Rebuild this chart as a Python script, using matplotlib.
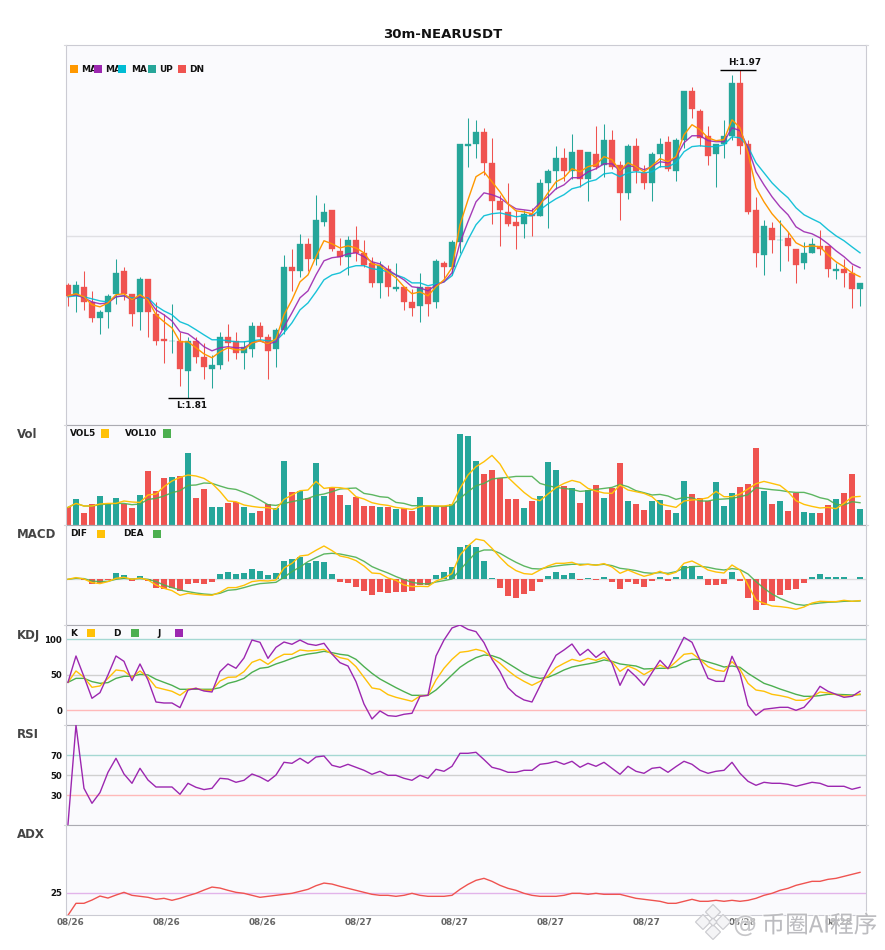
import numpy as np
import matplotlib
matplotlib.use("Agg")
import matplotlib.pyplot as plt
import matplotlib.patheffects as pe
from matplotlib.lines import Line2D
from matplotlib.patches import Polygon, Rectangle

UP = '#26A69A'
DN = '#EF5350'
ORANGE = '#FF9800'
PURPLE = '#9C27B0'
CYAN = '#00BCD4'
YELLOW = '#FFC107'
GREEN = '#4CAF50'
BG = '#FAFAFD'

# candles
open_ = [1.865,1.860,1.864,1.857,1.849,1.852,1.861,1.872,1.861,1.852,1.868,1.851,1.839,1.838,1.838,1.823,1.838,1.830,1.824,1.826,
         1.840,1.838,1.832,1.834,1.845,1.840,1.834,1.843,1.874,1.872,1.885,1.878,1.896,1.902,1.882,1.879,1.887,1.881,1.876,1.866,
         1.873,1.863,1.864,1.857,1.855,1.864,1.857,1.876,1.874,1.886,1.933,1.934,1.940,1.925,1.906,1.901,1.896,1.895,1.900,1.899,
         1.915,1.921,1.927,1.921,1.931,1.917,1.929,1.924,1.936,1.924,1.910,1.933,1.920,1.915,1.929,1.935,1.921,1.936,1.960,1.950,
         1.938,1.929,1.934,1.938,1.964,1.934,1.902,1.880,1.893,1.887,1.888,1.883,1.876,1.881,1.884,1.884,1.872,1.873,1.871,1.863]
close = [1.860,1.865,1.857,1.849,1.852,1.860,1.871,1.861,1.851,1.868,1.852,1.838,1.838,1.838,1.824,1.838,1.830,1.825,1.826,1.840,
         1.837,1.832,1.835,1.845,1.840,1.833,1.843,1.874,1.872,1.885,1.878,1.897,1.901,1.883,1.879,1.887,1.881,1.875,1.866,1.875,
         1.864,1.864,1.857,1.854,1.864,1.856,1.877,1.874,1.886,1.934,1.934,1.940,1.925,1.906,1.902,1.895,1.894,1.900,1.899,1.915,
         1.921,1.927,1.921,1.930,1.917,1.930,1.923,1.936,1.923,1.910,1.933,1.921,1.915,1.929,1.934,1.922,1.936,1.960,1.951,1.937,
         1.928,1.934,1.938,1.964,1.933,1.901,1.881,1.894,1.887,1.887,1.884,1.875,1.881,1.885,1.883,1.873,1.873,1.871,1.863,1.866]
high = [1.866,1.867,1.872,1.862,1.853,1.861,1.878,1.874,1.861,1.869,1.868,1.857,1.851,1.856,1.842,1.840,1.840,1.837,1.831,1.842,
        1.846,1.842,1.838,1.847,1.847,1.841,1.844,1.880,1.883,1.890,1.888,1.909,1.905,1.902,1.888,1.889,1.894,1.887,1.879,1.877,
        1.875,1.876,1.864,1.863,1.871,1.864,1.878,1.877,1.887,1.934,1.947,1.946,1.942,1.937,1.909,1.915,1.902,1.902,1.903,1.917,
        1.922,1.933,1.932,1.939,1.931,1.930,1.943,1.944,1.941,1.926,1.934,1.937,1.924,1.930,1.937,1.938,1.937,1.960,1.962,1.951,
        1.943,1.934,1.946,1.968,1.970,1.936,1.908,1.897,1.896,1.897,1.891,1.883,1.886,1.888,1.892,1.884,1.876,1.878,1.875,1.866]
low = [1.855,1.852,1.853,1.847,1.841,1.844,1.856,1.858,1.845,1.843,1.840,1.836,1.827,1.832,1.816,1.810,1.827,1.819,1.815,1.824,
       1.828,1.829,1.824,1.830,1.838,1.819,1.825,1.841,1.862,1.869,1.872,1.875,1.894,1.882,1.875,1.870,1.877,1.874,1.864,1.859,
       1.860,1.862,1.853,1.850,1.847,1.850,1.854,1.868,1.870,1.881,1.923,1.927,1.919,1.895,1.884,1.894,1.883,1.888,1.889,1.899,
       1.893,1.912,1.916,1.917,1.913,1.906,1.922,1.918,1.922,1.897,1.907,1.915,1.912,1.906,1.923,1.921,1.916,1.932,1.947,1.933,
       1.924,1.913,1.927,1.936,1.929,1.900,1.874,1.870,1.881,1.872,1.877,1.866,1.873,1.881,1.880,1.869,1.868,1.864,1.854,1.855]

ma5 = [1.8599,1.8609,1.8594,1.8555,1.8545,1.8564,1.8604,1.8609,1.8579,1.8604,1.8579,1.8506,1.8472,1.8442,1.8374,1.8374,1.8345,1.8315,1.8296,1.8325,
       1.8345,1.8335,1.8335,1.8369,1.8379,1.8364,1.8389,1.8506,1.8579,1.8667,1.8701,1.8790,1.8868,1.8853,1.8833,1.8843,1.8833,1.8809,1.8755,1.8746,
       1.8716,1.8687,1.8643,1.8609,1.8618,1.8599,1.8643,1.8677,1.8736,1.8946,1.9068,1.9181,1.9205,1.9156,1.9107,1.9048,1.9014,1.9009,1.9000,1.9043,
       1.9102,1.9156,1.9176,1.9220,1.9205,1.9230,1.9239,1.9279,1.9264,1.9210,1.9249,1.9230,1.9205,1.9234,1.9269,1.9254,1.9279,1.9386,1.9435,1.9411,
       1.9371,1.9357,1.9362,1.9459,1.9420,1.9298,1.9127,1.9058,1.9000,1.8956,1.8912,1.8858,1.8838,1.8843,1.8838,1.8799,1.8765,1.8741,1.8711,1.8692]
ma10 = [1.8599,1.8604,1.8589,1.8569,1.8560,1.8564,1.8594,1.8599,1.8579,1.8594,1.8584,1.8530,1.8506,1.8476,1.8423,1.8413,1.8384,1.8350,1.8330,1.8345,
        1.8350,1.8345,1.8345,1.8369,1.8379,1.8364,1.8374,1.8447,1.8516,1.8589,1.8623,1.8701,1.8770,1.8785,1.8790,1.8804,1.8809,1.8790,1.8765,1.8755,
        1.8726,1.8701,1.8677,1.8643,1.8638,1.8623,1.8652,1.8667,1.8711,1.8858,1.8961,1.9058,1.9102,1.9093,1.9078,1.9048,1.9024,1.9019,1.9014,1.9053,
        1.9083,1.9122,1.9141,1.9176,1.9176,1.9205,1.9220,1.9244,1.9244,1.9210,1.9234,1.9230,1.9215,1.9230,1.9254,1.9249,1.9274,1.9347,1.9381,1.9381,
        1.9357,1.9352,1.9352,1.9420,1.9406,1.9322,1.9205,1.9141,1.9083,1.9034,1.8995,1.8936,1.8912,1.8902,1.8882,1.8853,1.8819,1.8790,1.8755,1.8736]
ma20 = [1.8594,1.8599,1.8594,1.8584,1.8574,1.8569,1.8594,1.8599,1.8589,1.8589,1.8589,1.8550,1.8525,1.8506,1.8472,1.8457,1.8433,1.8408,1.8384,1.8384,
        1.8379,1.8374,1.8374,1.8379,1.8384,1.8379,1.8379,1.8418,1.8467,1.8530,1.8564,1.8618,1.8677,1.8701,1.8711,1.8736,1.8746,1.8746,1.8731,1.8726,
        1.8716,1.8701,1.8687,1.8662,1.8662,1.8648,1.8657,1.8667,1.8697,1.8790,1.8873,1.8946,1.8990,1.9000,1.9004,1.8995,1.8985,1.8990,1.8990,1.9019,
        1.9048,1.9073,1.9093,1.9122,1.9132,1.9156,1.9166,1.9195,1.9200,1.9181,1.9200,1.9205,1.9200,1.9205,1.9230,1.9230,1.9249,1.9303,1.9328,1.9332,
        1.9328,1.9328,1.9337,1.9376,1.9371,1.9328,1.9249,1.9200,1.9151,1.9112,1.9078,1.9029,1.8995,1.8975,1.8956,1.8922,1.8892,1.8868,1.8838,1.8809]

# volume, arbitrary units
vol = [17.3,25.3,11.7,20.3,28.3,20.3,26.3,20.3,16.7,29.3,53.7,33.3,46.7,47.7,48.7,71.7,26.7,35.7,17.3,17.3,
       21.3,22.7,17.3,11.3,13.7,20.3,16.3,63.3,32.7,33.7,26.3,61.7,28.7,37.3,29.7,19.7,27.7,18.7,18.7,17.7,
       17.7,15.7,16.3,13.7,27.7,18.7,18.7,18.7,20.7,90.7,88.7,63.7,50.7,54.7,46.7,25.7,25.7,16.7,23.7,28.7,
       62.7,54.7,38.7,36.7,21.7,34.7,39.7,26.7,36.7,61.7,23.7,20.7,14.7,23.7,24.7,14.7,11.7,43.7,30.7,26.7,
       23.7,42.7,18.7,31.7,37.7,40.7,76.7,33.7,20.7,23.7,13.7,31.7,12.7,11.7,11.7,19.7,25.7,31.7,50.7,15.7]
vol5 = [17.3,21.3,18.7,18.7,20.7,21.3,21.3,23.7,22.7,22.3,29.7,30.7,38,43.7,47.3,49.7,48.7,46.3,41.3,33.3,
        23.7,23,19.7,18.3,17.3,17,15.3,25.3,29.7,34,34.7,43.3,36.3,37.3,37,35.7,28,25.7,22,20.3,
        19.3,17.3,16.3,15.3,18,19,18.7,18.7,20,36.3,49.7,58,63,69.3,60.7,47.3,39.7,32.3,26.3,24,
        30.7,37,41.3,44.3,42.3,36.3,33.7,31.7,31.3,39.7,34.7,33,31.3,28,20.7,19,17.3,23.7,24.7,25.3,
        27,33.3,28,28,30.7,35.7,41,43.3,41.3,39.3,33,24,20.3,18.3,16.7,17.3,16,21.3,27.7,28.3]
vol10 = [17.3,21.3,18.7,18.7,20,20.7,21.3,21.3,20,20.7,25.3,26.3,28.7,32,34,39.3,39.7,41.7,41.3,38.7,
         36.3,35.3,32.3,29,24.7,20,19.3,21.3,23,24.7,26.3,29.3,30.7,33,35.7,36.3,36.7,31.3,30,28,
         27.3,22.3,21.3,19,19,18.7,18.3,18.3,19,26.3,33,39,41.3,45.7,46.7,47.3,48.3,48.3,48.3,41.3,
         39,37.3,36.3,35.3,33.3,34,35.3,36.3,37.3,40.3,38,34,32,29.7,30.3,28.7,25.3,27.3,27,23.7,
         23.7,25.3,25.7,26.3,28,30,37,36,35,34.3,33,32.3,32.3,30,27,25.3,20.3,19.7,23,22]

# macd, arbitrary units
hist = [0,0.5,-0.5,-4.7,-4,-1,6,4.3,-1.7,3.3,-2,-8.7,-9.7,-8.3,-11.7,-4.7,-4,-4.7,-2.7,5.3,
        7.3,5.3,6.3,10.3,8.3,4.3,6.3,18.3,20.3,22.3,16.3,18.3,17.3,5.3,-2.7,-3.7,-7.7,-11.7,-15.7,-12.7,
        -13.7,-12.7,-12.7,-11.7,-5.7,-5.7,4.3,7.3,12.3,32.3,34.3,32.3,18.3,1.3,-8.7,-16.7,-18.7,-14.7,-11.7,-2.7,
        3.3,7.3,4.3,6.3,-0.7,1.3,-0.7,2.3,-2.7,-9.7,-2.7,-4.7,-7.7,-1.7,2.3,-1.7,2.3,13.3,13.3,3.3,
        -5.7,-5.7,-4.7,7.3,-1.7,-18.7,-30.7,-25.7,-21.7,-15.7,-10.7,-9.7,-3.7,2.3,5.3,2.3,2.3,2.3,0,2.3]
dif = [0,1.7,0.3,-3.3,-4.3,-2.3,1,2,0,1.3,-0.7,-5.7,-9,-11.3,-16,-14,-15,-15.7,-16,-13,
       -8.3,-8.3,-6,-2.3,-1.3,-1.7,-0.7,11.3,16,23.3,24.3,29,33.3,28.7,23.3,21.7,18.7,13.3,6.3,5.7,
       1.3,-1,-5.7,-7.3,-7,-7.3,-1.7,1.3,5.7,24.3,33.3,40.3,38.7,31,22,14,8.7,5.7,5,9.3,
       13.3,16,16,17,14,15,14,15.7,12.3,6,9.3,6,3,5,8,4.7,7,16,18.3,14.3,
       9.3,7.3,6.3,14.3,9.3,-5.7,-20.7,-24,-26.7,-27.3,-28.3,-30,-27.7,-23.7,-22,-22.3,-22.3,-21,-22,-21.3]
dea = [0,1,0.7,-1.7,-2.3,-2,0,1,0.3,0.7,0,-2.3,-5.7,-8.3,-10.7,-12.3,-13.7,-14.7,-15.3,-14,
       -11,-10.3,-8.3,-6,-4.3,-3.7,-3,2,7.7,12.3,17.7,21.7,25.3,26,25.3,23.7,22,18,12.7,9.3,
       6.3,2.7,-0.3,-3,-4.3,-4.7,-2.7,-1.3,0.3,9.3,18.3,26.7,29.3,29.3,26,21.3,17,13.3,10.7,10.3,
       12,13.3,14.3,15,15,15,14.3,15,13.7,11,10,8.7,6.7,6,6.7,6,7.7,11,12.7,13,
       12,10.3,9.3,10.7,9.7,5.3,-2.3,-9,-14.7,-19,-22.3,-25,-26,-24.7,-23.7,-23,-22.7,-22,-22,-21.7]

k = [39.4,55.4,46.5,32.4,34.3,45,56.8,55.4,46.5,55.4,46.5,32.4,29.6,26.8,21.1,29.6,31,28.2,28.2,41.3,
     46.5,46.9,54.5,67.6,71.8,64.8,73.2,78.9,78.9,85,83.6,84.5,85.9,79.3,74.2,71.8,61.5,46.5,31.5,29.6,
     22.1,18.3,15.5,12.7,20.2,21.1,42.7,59.2,71.8,81.7,83.1,85.9,83.1,74.2,66.2,55.9,47.4,40.8,35.2,40.8,
     48.4,60.1,66.2,71.8,69,73.2,70.4,74.6,68.5,54.9,62.4,57.7,50.2,56.8,63.8,58.7,68.5,78.9,80.3,71.8,
     61.5,56.8,54.9,68.5,57.7,38,28.6,26.8,22.5,20.7,18.3,14.1,14.1,18.8,25.8,24.4,22.1,20.2,20.2,23]
d = [39.4,45,45,40.4,38,39,45,47.9,47.9,50.7,49.8,43.7,39.4,35.2,29.6,29.6,29.6,29.6,29.6,31.9,
     38,40.8,45,53.5,59.2,60.6,65.3,69,73.2,77,79.3,80.8,83.1,81.2,78.9,77.5,71.8,61.5,52.1,44.1,
     38,31.9,26.3,21.1,21.1,21.1,28.6,39,49.8,60.6,68.1,74.2,77.9,77,73.2,66.2,59.2,52.1,47.4,45,
     46.5,51.2,56.8,61,63.4,65.3,67.6,70.9,69,65.3,63.8,62.4,58.2,58.7,59.2,59.2,61.5,67.6,71.8,71.8,
     68.1,64.8,61,62.4,60.6,52.1,45,38,34.3,30,26.3,22.5,19.7,19.7,20.7,22.5,22.5,22.1,21.6,22.1]
j = [39.4,76.5,47.4,16.9,24.9,49.8,76.5,69,41.8,65.3,42.7,11.7,10.3,10.3,3.8,28.6,31,27.2,25.8,54.5,
     65.3,59.2,73.7,99,95.8,73.2,88.7,96.2,93,99,93.4,91.5,94.4,79.3,67.1,62.4,40.4,8.9,-12.2,-0.9,
     -7.5,-8.5,-5.6,-4.2,19.7,21.1,76.5,99,116,120.2,114,110.8,95.3,71.8,54.5,31.9,21.1,14.6,11.7,34.3,
     56.8,77.5,85,93.4,77.5,85.9,74.6,83.1,66.2,35.2,57.7,47.4,35.2,53,70.4,58.7,80.3,102.8,95.8,70.9,
     45,40.8,40.8,76.1,52.1,7,-7,1.4,2.8,4.2,4.2,0,4.2,16.9,33.8,26.8,22.5,18.3,19.7,26.8]

rsi = [1,100.3,37,22,32.7,53,67,51.3,42,57,45.3,38.3,38.3,38.3,31,42,38,35.7,37,47,
       46.3,43,45,51.3,48.3,44,50.3,63,62,67,62,68.3,69.3,60,58,61,58,55,51,54,
       50,50,47,45,50,47,56,54,59,72,72,73,65.7,58,56,53,53,55,55,61,
       62,64,61,64,58,62,59,63,57,51,59,54,52,57,58,53,58.7,64,61,55,
       52,54,55,63,52,44,40,43,42,42,41,39,41,43,42,39,39,39,36,38]
adx = [0,13.2,13.2,16.8,21.2,19,22.3,25.3,22,20.9,19.8,17.6,18.7,16.5,18.7,21.6,24.2,27.8,31.1,30,
       27.5,25.3,24.2,22,19.8,20.9,22,23.1,24.2,26.4,28.6,32.6,35.5,34.4,31.9,29.7,27.5,25.3,23.1,22,
       22,20.9,22,24.2,22,20.9,20.9,20.9,22,28.6,34.1,38.5,40.7,37.4,33,29.7,27.5,24.2,22,20.9,
       20.9,20.9,22,24.2,24.2,23.1,24.2,23.1,23.1,23.1,20.9,18.7,17.6,16.5,15.4,13.2,13.2,15.4,17.6,15.4,
       15.4,16.5,15.4,16.5,15.4,16.5,18.7,22,24.2,27.5,29.7,33,35.2,37.4,37.4,39.6,40.7,42.9,45.1,47.3]

date_labels = ['08/26', '08/26', '08/26', '08/27', '08/27', '08/27', '08/27', '08/28', '08/28']

W, H = 885, 950
x = np.arange(len(close))
colors = [UP if c >= o else DN for o, c in zip(open_, close)]


def panel(top, bottom, ylim):
    ax = fig.add_axes([65.5 / W, 1 - bottom / H, 800.5 / W, (bottom - top) / H], facecolor=BG)
    ax.set_xlim(-0.31, 99.75)
    ax.set_ylim(*ylim)
    ax.set_xticks([])
    ax.set_yticks([])
    for s in ax.spines.values():
        s.set_color('#CBCBD3')
        s.set_linewidth(0.8)
    ax.spines['top'].set_color('#ABABB2')
    # little stubs either side of the panel edge
    for xa, xb in ((63.5, 65.5), (866, 868)):
        fig.add_artist(Line2D([xa / W, xb / W], [1 - top / H] * 2, color='#D8D8DC', lw=0.8))
    return ax


def legend(texts, swatches, ypx):
    for left, txt in texts:
        fig.text(left / W, 1 - ypx / H, txt, fontsize=6.4, fontweight='bold', color='#111111',
                 va='center', ha='left', zorder=5)
    for left, col in swatches:
        fig.add_artist(Rectangle((left / W, 1 - (ypx + 4) / H), 8 / W, 8 / H, transform=fig.transFigure,
                                 facecolor=col, edgecolor='none', zorder=6))


fig = plt.figure(figsize=(8.85, 9.5), dpi=100)
fig.patch.set_facecolor('white')

# main chart
ax0 = panel(44.7, 424.7, (1.7969, 1.9826))
ax0.spines['top'].set_color('#CBCBD3')
ax0.axhline(1.8892, color='#E0E0E4', lw=1, zorder=1)
ax0.vlines(x, low, high, color=colors, lw=0.75, zorder=2)
ax0.bar(x, np.array(close) - np.array(open_), bottom=open_, width=0.72, color=colors,
        edgecolor=colors, linewidth=0.25, zorder=3)
ax0.plot(x, ma20, color=CYAN, lw=1, zorder=4, alpha=0.9)
ax0.plot(x, ma10, color=PURPLE, lw=1, zorder=5, alpha=0.9)
ax0.plot(x, ma5, color=ORANGE, lw=1, zorder=6)

i_hi = int(np.argmax(high))
i_lo = int(np.argmin(low))
ax0.hlines(max(high), i_hi - 2.5, i_hi + 2, color='black', lw=1, zorder=7)
ax0.hlines(min(low), i_lo - 2.5, i_lo + 2, color='black', lw=1, zorder=7)
ax0.annotate('H:%.2f' % max(high), (i_hi + 0.55, max(high)), xytext=(0, 2.5), textcoords='offset points',
             ha='center', va='bottom', fontsize=6.4, fontweight='bold', color='#111111')
ax0.annotate('L:%.2f' % min(low), (i_lo + 0.45, min(low)), xytext=(0, -2.5), textcoords='offset points',
             ha='center', va='top', fontsize=6.4, fontweight='bold', color='#111111')

fig.text(443 / W, 1 - 34.5 / H, '30m-NEARUSDT', fontsize=9.5, fontweight='bold', ha='center', va='center', color='#111111')

# volume
ax1 = panel(424.7, 524.7, (0, 100))
ax1.bar(x, vol, width=0.75, color=colors, zorder=2)
ax1.plot(x, vol5, color=YELLOW, lw=1, zorder=4)
ax1.plot(x, vol10, color=GREEN, lw=1, zorder=3, alpha=0.9)

# macd
ax2 = panel(524.7, 624.7, (-45.4, 54.6))
ax2.axhline(0, color='#DDDDDF', lw=1, zorder=1)
ax2.bar(x, hist, width=0.75, color=[UP if h >= 0 else DN for h in hist], zorder=2)
ax2.plot(x, dif, color=YELLOW, lw=1, zorder=4)
ax2.plot(x, dea, color=GREEN, lw=1, zorder=3, alpha=0.9)

# kdj
ax3 = panel(624.7, 724.5, (-20, 120.6))
ax3.axhline(100, color='#A5D8D3', lw=1, zorder=1)
ax3.axhline(50, color='#D0D0D0', lw=1, zorder=1)
ax3.axhline(0, color='#FFB9B9', lw=1, zorder=1)
ax3.plot(x, d, color=GREEN, lw=1, zorder=2)
ax3.plot(x, k, color=YELLOW, lw=1, zorder=3)
ax3.plot(x, j, color=PURPLE, lw=1, zorder=4)

# rsi
ax4 = panel(724.5, 824.5, (0.8, 100.8))
ax4.axhline(70, color='#A5D8D3', lw=1, zorder=1)
ax4.axhline(50, color='#D0D0D0', lw=1, zorder=1)
ax4.axhline(30, color='#FFB9B9', lw=1, zorder=1)
ax4.plot(x, rsi, color=PURPLE, lw=1, zorder=3)

# adx
ax5 = panel(824.5, 915.3, (0, 100))
ax5.axhline(25, color='#E2B4EA', lw=1, zorder=1)
ax5.plot(x, adx, color=DN, lw=1, zorder=3)
ax5.set_xticks(np.arange(0, 100, 12) + 0.35)
ax5.set_xticklabels(date_labels, fontsize=6.4, fontweight='bold', color='#666666')
ax5.tick_params(axis='x', length=0, pad=1.8)

for ax, ticks in ((ax3, [0, 50, 100]), (ax4, [30, 50, 70]), (ax5, [25])):
    ax.set_yticks(ticks)
    ax.set_yticklabels([str(t) for t in ticks], fontsize=6.2, fontweight='bold', color='#111111')
    ax.tick_params(axis='y', length=0, pad=2.5)

for name, ypx in (('Vol', 435), ('MACD', 535), ('KDJ', 635), ('RSI', 735), ('ADX', 835)):
    fig.text(17 / W, 1 - ypx / H, name, fontsize=8.5, fontweight='bold', color='#444444', ha='left', va='center')

# legends
legend([(81, 'MA'), (105, 'MA'), (131, 'MA'), (159, 'UP'), (189, 'DN')],
       [(70, ORANGE), (94, PURPLE), (118, CYAN), (148, UP), (178, DN)], 69)
legend([(70, 'VOL5'), (125, 'VOL10')], [(101, YELLOW), (163, GREEN)], 433.5)
legend([(70, 'DIF'), (123, 'DEA')], [(97, YELLOW), (153, GREEN)], 533.5)
legend([(70, 'K'), (113, 'D'), (157, 'J')], [(87, YELLOW), (131, GREEN), (175, PURPLE)], 633)

# watermark sits over the last date labels, they still show through
halo = [pe.withStroke(linewidth=2, foreground='white', alpha=0.55)]
fig.text(819.5 / W, 1 - 926 / H, '币圈AI程序', fontsize=17, color='#B4B4B8', alpha=0.85, ha='center', va='center',
         family=['Noto Sans CJK SC', 'DejaVu Sans'], path_effects=halo, zorder=9)
fig.text(745 / W, 1 - 925 / H, '@', fontsize=17, color='#BDBDC0', alpha=0.8, ha='center', va='center',
         path_effects=halo, zorder=9)
for cx, cy, r in ((713, 912, 7.5), (703, 922, 7.5), (723, 922, 7.5), (713, 932, 7.5), (713, 922, 4)):
    pts = [((cx + dx) / W, 1 - (cy + dy) / H) for dx, dy in ((r, 0), (0, r), (-r, 0), (0, -r))]
    fig.add_artist(Polygon(pts, closed=True, transform=fig.transFigure, facecolor='#F4F4F6',
                           edgecolor='#CDCDD1', linewidth=0.9, zorder=8))

fig.savefig('out.png', dpi=100)
